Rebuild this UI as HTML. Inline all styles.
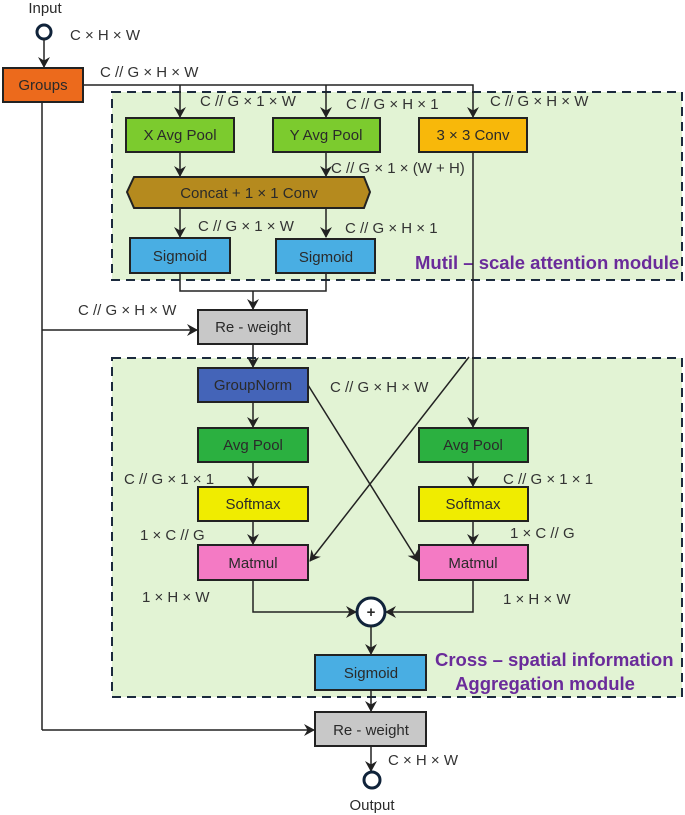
<!DOCTYPE html>
<html><head><meta charset="utf-8"><style>
html,body{margin:0;padding:0;background:#fff;}
svg{display:block;font-family:"Liberation Sans",sans-serif;}
.b{stroke:#222;stroke-width:2;}
.t{font-size:15px;fill:#2a2a2a;text-anchor:middle;}
.l{font-size:15px;fill:#333;}
.ln{stroke:#222;stroke-width:1.5;fill:none;}
.p{font-size:18.5px;font-weight:bold;fill:#6a2b9a;}
</style></head><body>
<svg width="685" height="815" viewBox="0 0 685 815">
<defs><marker id="a" markerWidth="12" markerHeight="12" refX="10" refY="6" orient="auto" markerUnits="userSpaceOnUse"><path d="M0,0 L11,6 L0,12 L3.5,6 Z" fill="#222"/></marker></defs>
<rect x="112" y="92" width="570" height="188" fill="#e2f3d4" stroke="#1b2a3d" stroke-width="2" stroke-dasharray="9,6"/>
<rect x="112" y="358" width="570" height="339" fill="#e2f3d4" stroke="#1b2a3d" stroke-width="2" stroke-dasharray="9,6"/>
<text x="45" y="13" class="t" font-size="14">Input</text>
<circle cx="44" cy="32" r="7" fill="#fff" stroke="#10233a" stroke-width="3"/>
<text x="70" y="40" class="l">C × H × W</text>
<line x1="44" y1="39" x2="44" y2="67" class="ln" marker-end="url(#a)"/>
<rect x="3" y="68" width="80" height="34" fill="#ec6a1c" class="b"/>
<text x="43" y="90" class="t">Groups</text>
<text x="100" y="77" class="l">C // G × H × W</text>
<polyline points="83,85 473,85 473,117" class="ln" marker-end="url(#a)"/>
<line x1="180" y1="85" x2="180" y2="117" class="ln" marker-end="url(#a)"/>
<line x1="326" y1="85" x2="326" y2="117" class="ln" marker-end="url(#a)"/>
<text x="200" y="106" class="l">C // G × 1 × W</text>
<text x="346" y="109" class="l">C // G × H × 1</text>
<text x="490" y="106" class="l">C // G × H × W</text>
<rect x="126" y="118" width="108" height="34" fill="#7ccb2e" class="b"/><text x="180" y="140" class="t">X Avg Pool</text>
<rect x="273" y="118" width="107" height="34" fill="#7ccb2e" class="b"/><text x="326" y="140" class="t">Y Avg Pool</text>
<rect x="419" y="118" width="108" height="34" fill="#f8b80a" class="b"/><text x="473" y="140" class="t">3 ×  3 Conv</text>
<line x1="180" y1="152" x2="180" y2="176" class="ln" marker-end="url(#a)"/>
<line x1="326" y1="152" x2="326" y2="176" class="ln" marker-end="url(#a)"/>
<text x="331" y="173" class="l">C // G × 1 × (W + H)</text>
<polygon points="134,177 364,177 370,192 364,208 134,208 127,192" fill="#b58a1e" class="b"/>
<text x="249" y="198" class="t">Concat + 1 ×  1 Conv</text>
<line x1="180" y1="208" x2="180" y2="237" class="ln" marker-end="url(#a)"/>
<line x1="326" y1="208" x2="326" y2="237" class="ln" marker-end="url(#a)"/>
<text x="198" y="231" class="l">C // G × 1 × W</text>
<text x="345" y="233" class="l">C // G × H × 1</text>
<rect x="130" y="238" width="100" height="35" fill="#49aee3" class="b"/><text x="180" y="261" class="t">Sigmoid</text>
<rect x="276" y="239" width="99" height="34" fill="#49aee3" class="b"/><text x="326" y="262" class="t">Sigmoid</text>
<text x="415" y="269" class="p">Mutil – scale attention module</text>
<polyline points="180,273 180,291 326,291 326,273" class="ln"/>
<line x1="253" y1="291" x2="253" y2="309" class="ln" marker-end="url(#a)"/>
<line x1="42" y1="102" x2="42" y2="730" class="ln"/>
<line x1="42" y1="330" x2="197" y2="330" class="ln" marker-end="url(#a)"/>
<text x="78" y="315" class="l">C // G × H × W</text>
<rect x="198" y="310" width="109" height="34" fill="#c8c8c8" class="b"/><text x="253" y="332" class="t">Re - weight</text>
<line x1="253" y1="344" x2="253" y2="367" class="ln" marker-end="url(#a)"/>
<line x1="473" y1="152" x2="473" y2="427" class="ln" marker-end="url(#a)"/>
<line x1="469" y1="357" x2="310" y2="561" class="ln" marker-end="url(#a)"/>
<line x1="308" y1="385" x2="418" y2="561" class="ln" marker-end="url(#a)"/>
<rect x="198" y="368" width="110" height="34" fill="#4464b8" class="b"/><text x="253" y="390" class="t">GroupNorm</text>
<text x="330" y="392" class="l">C // G × H × W</text>
<line x1="253" y1="402" x2="253" y2="427" class="ln" marker-end="url(#a)"/>
<rect x="198" y="428" width="110" height="34" fill="#2bb040" class="b"/><text x="253" y="450" class="t">Avg Pool</text>
<rect x="419" y="428" width="109" height="34" fill="#2bb040" class="b"/><text x="473" y="450" class="t">Avg Pool</text>
<text x="124" y="484" class="l">C // G × 1 × 1</text>
<text x="503" y="484" class="l">C // G × 1 × 1</text>
<line x1="253" y1="462" x2="253" y2="486" class="ln" marker-end="url(#a)"/>
<line x1="473" y1="462" x2="473" y2="486" class="ln" marker-end="url(#a)"/>
<rect x="198" y="487" width="110" height="34" fill="#f0ec00" class="b"/><text x="253" y="509" class="t">Softmax</text>
<rect x="419" y="487" width="109" height="34" fill="#f0ec00" class="b"/><text x="473" y="509" class="t">Softmax</text>
<text x="140" y="540" class="l">1 × C // G</text>
<text x="510" y="538" class="l">1 × C // G</text>
<line x1="253" y1="521" x2="253" y2="544" class="ln" marker-end="url(#a)"/>
<line x1="473" y1="521" x2="473" y2="544" class="ln" marker-end="url(#a)"/>
<rect x="198" y="545" width="110" height="35" fill="#f47ac4" class="b"/><text x="253" y="568" class="t">Matmul</text>
<rect x="419" y="545" width="109" height="35" fill="#f47ac4" class="b"/><text x="473" y="568" class="t">Matmul</text>
<text x="142" y="602" class="l">1 × H × W</text>
<text x="503" y="604" class="l">1 × H × W</text>
<polyline points="253,580 253,612 356,612" class="ln" marker-end="url(#a)"/>
<polyline points="473,580 473,612 386,612" class="ln" marker-end="url(#a)"/>
<circle cx="371" cy="612" r="14" fill="#fff" stroke="#10233a" stroke-width="3"/>
<text x="371" y="617" class="t" font-weight="bold" font-size="14">+</text>
<line x1="371" y1="626" x2="371" y2="654" class="ln" marker-end="url(#a)"/>
<rect x="315" y="655" width="111" height="35" fill="#49aee3" class="b"/><text x="371" y="678" class="t">Sigmoid</text>
<text x="435" y="666" class="p">Cross – spatial information</text>
<text x="545" y="690" class="p" text-anchor="middle">Aggregation module</text>
<line x1="371" y1="690" x2="371" y2="711" class="ln" marker-end="url(#a)"/>
<line x1="42" y1="730" x2="314" y2="730" class="ln" marker-end="url(#a)"/>
<rect x="315" y="712" width="111" height="34" fill="#c8c8c8" class="b"/><text x="371" y="735" class="t">Re - weight</text>
<line x1="371" y1="746" x2="371" y2="771" class="ln" marker-end="url(#a)"/>
<text x="388" y="765" class="l">C × H × W</text>
<circle cx="372" cy="780" r="8" fill="#fff" stroke="#10233a" stroke-width="3"/>
<text x="372" y="810" class="t" font-size="14">Output</text>
</svg>
</body></html>
